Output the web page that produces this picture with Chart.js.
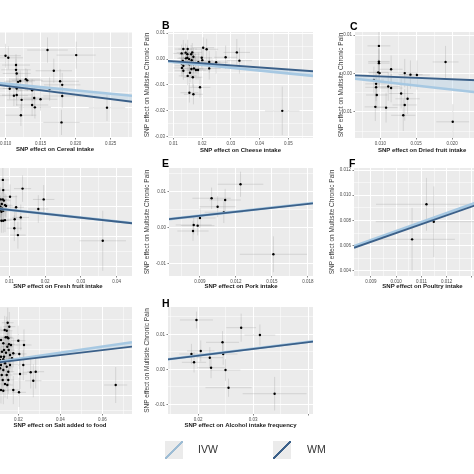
<!DOCTYPE html>
<html><head><meta charset="utf-8">
<script src="https://cdn.jsdelivr.net/npm/chart.js@4.4.1/dist/chart.umd.min.js"></script>
<style>
html,body{margin:0;padding:0;background:#fff;width:474px;height:474px;overflow:hidden;position:relative;}
.lab{position:absolute;font:bold 10.5px "Liberation Sans",Arial,sans-serif;line-height:1;color:#000;will-change:transform;}
.key{position:absolute;width:17.5px;height:18px;}
.ktxt{position:absolute;font:10.5px "Liberation Sans",Arial,sans-serif;line-height:1;color:#333;will-change:transform;-webkit-font-smoothing:antialiased;}
</style></head><body>
<script>
const FONT = '"Liberation Sans", Arial, sans-serif';
const Y_TITLE = 'SNP effect on Multisite Chronic Pain';

// ---------- A: Cereal intake ----------
const cerealX = [0.0100,0.0104,0.0160,0.0201,0.0115,0.0115,0.0116,0.0169,0.0118,0.0121,0.0129,0.0131,0.0178,0.0181,0.0106,0.0116,0.0138,0.0163,0.0112,0.0116,0.0123,0.0141,0.0150,0.0181,0.0138,0.0142,0.0122,0.0180,0.0245];
const cerealY = [0.0071,0.0064,0.0090,0.0073,0.0040,0.0024,0.0012,0.0021,-0.0016,-0.0013,-0.0007,-0.0011,-0.0014,-0.0026,-0.0039,-0.0038,-0.0044,-0.0040,-0.0062,-0.0060,-0.0076,-0.0070,-0.0074,-0.0063,-0.0093,-0.0101,-0.0127,-0.0151,-0.0102];
const cerealXse = [0.0022,0.0021,0.0029,0.0028,0.0020,0.0021,0.0020,0.0026,0.0020,0.0021,0.0022,0.0022,0.0027,0.0026,0.0021,0.0020,0.0023,0.0025,0.0020,0.0021,0.0021,0.0023,0.0024,0.0027,0.0023,0.0023,0.0022,0.0026,0.0026];
const cerealYse = [0.0040,0.0038,0.0042,0.0045,0.0036,0.0037,0.0035,0.0040,0.0034,0.0035,0.0036,0.0036,0.0041,0.0040,0.0035,0.0036,0.0037,0.0039,0.0035,0.0035,0.0036,0.0037,0.0038,0.0040,0.0037,0.0037,0.0036,0.0042,0.0044];
const cerealBeta = [-0.222, -0.293];            // IVW, WM
const cerealXRange = [0.00607, 0.02807];
const cerealYRange = [-0.0203, 0.015];
const cerealXTicks = [0.010,0.015,0.020,0.025];
const cerealXLabels = ['0.010','0.015','0.020','0.025'];
const cerealYTicks = [-0.02,-0.01,0,0.01];
const cerealYLabels = ['-0.02','-0.01','0.00','0.01'];

// ---------- B: Cheese intake ----------
const cheeseX = [0.0135,0.0150,0.0129,0.0143,0.0149,0.0166,0.0162,0.0170,0.0149,0.0144,0.0155,0.0133,0.0164,0.0204,0.0216,0.0199,0.0201,0.0282,0.0321,0.0330,0.0129,0.0135,0.0156,0.0170,0.0178,0.0187,0.0225,0.0249,0.0130,0.0135,0.0163,0.0172,0.0179,0.0186,0.0158,0.0150,0.0168,0.0225,0.0193,0.0156,0.0170,0.0479];
const cheeseY = [0.0039,0.0039,0.0022,0.0025,0.0019,0.0026,0.0019,0.0009,0.0005,0.0003,0.0000,-0.0007,-0.0004,0.0044,0.0038,0.0005,-0.0004,0.0007,0.0026,-0.0006,-0.0016,-0.0026,-0.0020,-0.0019,-0.0016,-0.0012,-0.0011,-0.0012,-0.0034,-0.0045,-0.0038,-0.0036,-0.0042,-0.0042,-0.0053,-0.0065,-0.0070,-0.0036,-0.0109,-0.0130,-0.0136,-0.0200];
const cheeseXse = [0.0030,0.0032,0.0029,0.0031,0.0030,0.0033,0.0032,0.0033,0.0030,0.0030,0.0031,0.0029,0.0032,0.0038,0.0040,0.0036,0.0037,0.0040,0.0046,0.0044,0.0029,0.0030,0.0031,0.0033,0.0034,0.0035,0.0039,0.0041,0.0029,0.0030,0.0032,0.0033,0.0034,0.0035,0.0032,0.0031,0.0033,0.0040,0.0036,0.0031,0.0033,0.0060];
const cheeseYse = [0.0035,0.0036,0.0034,0.0035,0.0034,0.0036,0.0035,0.0034,0.0033,0.0033,0.0034,0.0033,0.0035,0.0040,0.0041,0.0037,0.0038,0.0045,0.0052,0.0050,0.0033,0.0034,0.0035,0.0036,0.0036,0.0037,0.0042,0.0044,0.0034,0.0035,0.0036,0.0036,0.0037,0.0037,0.0036,0.0036,0.0038,0.0043,0.0040,0.0038,0.0039,0.0094];
const cheeseBeta = [-0.111, -0.080];
const cheeseXRange = [0.00816, 0.05859];
const cheeseYRange = [-0.0305, 0.01048];
const cheeseXTicks = [0.01,0.02,0.03,0.04,0.05];
const cheeseXLabels = ['0.01','0.02','0.03','0.04','0.05'];
const cheeseYTicks = [-0.03,-0.02,-0.01,0,0.01];
const cheeseYLabels = ['-0.03','-0.02','-0.01','0.00','0.01'];

// ---------- C: Dried fruit intake ----------
const driedX = [0.0098,0.0098,0.0098,0.0097,0.0099,0.0115,0.0134,0.0142,0.0151,0.0191,0.0091,0.0094,0.0094,0.0111,0.0115,0.0129,0.0095,0.0138,0.0134,0.0093,0.0108,0.0132,0.0201];
const driedY = [0.0072,0.0031,0.0027,0.0003,0.0001,0.0011,0.0001,-0.0003,-0.0004,0.0030,-0.0017,-0.0027,-0.0036,-0.0034,-0.0038,-0.0052,-0.0056,-0.0066,-0.0082,-0.0087,-0.0089,-0.0109,-0.0126];
const driedXse = [0.0016,0.0015,0.0015,0.0014,0.0015,0.0016,0.0017,0.0017,0.0018,0.0018,0.0014,0.0015,0.0015,0.0016,0.0016,0.0017,0.0015,0.0017,0.0017,0.0015,0.0016,0.0017,0.0023];
const driedYse = [0.0040,0.0036,0.0036,0.0034,0.0034,0.0036,0.0037,0.0037,0.0038,0.0042,0.0035,0.0035,0.0036,0.0037,0.0037,0.0039,0.0036,0.0040,0.0041,0.0037,0.0039,0.0041,0.0046];
const driedBeta = [-0.21, -0.075];
const driedXRange = [0.00646, 0.02519];
const driedYRange = [-0.01682, 0.01082];
const driedXTicks = [0.010,0.015,0.020,0.025];
const driedXLabels = ['0.010','0.015','0.020','0.025'];
const driedYTicks = [-0.01,0,0.01];
const driedYLabels = ['-0.01','0.00','0.01'];

// ---------- D: Fresh fruit intake ----------
const freshX = [0.0082,0.0083,0.0076,0.0082,0.0085,0.0102,0.0137,0.0196,0.0079,0.0088,0.0091,0.0119,0.0181,0.0076,0.0083,0.0078,0.0083,0.0088,0.0115,0.0132,0.0114,0.0124,0.0361,0.0075,0.0080,0.0078];
const freshY = [0.0087,0.0053,0.0022,0.0022,0.0018,0.0031,0.0058,0.0022,0.0007,0.0003,0.0000,-0.0004,-0.0010,-0.0013,-0.0016,-0.0049,-0.0049,-0.0047,-0.0044,-0.0038,-0.0074,-0.0097,-0.0116,-0.0002,-0.0008,-0.0019];
const freshXse = [0.0018,0.0018,0.0017,0.0018,0.0018,0.0020,0.0024,0.0030,0.0017,0.0018,0.0019,0.0022,0.0028,0.0017,0.0018,0.0017,0.0018,0.0018,0.0021,0.0023,0.0021,0.0022,0.0065,0.0017,0.0017,0.0017];
const freshYse = [0.0045,0.0042,0.0040,0.0040,0.0039,0.0041,0.0044,0.0048,0.0038,0.0038,0.0038,0.0040,0.0046,0.0038,0.0038,0.0040,0.0040,0.0040,0.0042,0.0043,0.0043,0.0045,0.0100,0.0037,0.0037,0.0038];
const freshBeta = [-0.128, -0.130];
const freshXRange = [0.00293, 0.04427];
const freshYRange = [-0.02333, 0.01267];
const freshXTicks = [0.01,0.02,0.03,0.04];
const freshXLabels = ['0.01','0.02','0.03','0.04'];
const freshYTicks = [-0.02,-0.01,0,0.01];
const freshYLabels = ['-0.02','-0.01','0.00','0.01'];

// ---------- E: Pork intake ----------
const porkX = [0.01238,0.00997,0.01110,0.01047,0.01099,0.00900,0.00848,0.00881,0.00842,0.01512];
const porkY = [0.01206,0.00817,0.00769,0.00583,0.00428,0.00269,0.00075,0.00056,-0.00092,-0.00739];
const porkXse = [0.0019,0.0016,0.0013,0.0015,0.0016,0.0013,0.0015,0.0014,0.0013,0.0028];
const porkYse = [0.0035,0.0030,0.0031,0.0029,0.0030,0.0027,0.0026,0.0027,0.0027,0.0050];
const porkBeta = [0.372, 0.368];
const porkXRange = [0.00642, 0.01842];
const porkYRange = [-0.01342, 0.01658];
const porkXTicks = [0.009,0.012,0.015,0.018];
const porkXLabels = ['0.009','0.012','0.015','0.018'];
const porkYTicks = [-0.01,0,0.01];
const porkYLabels = ['-0.01','0.00','0.01'];

// ---------- F: Poultry intake ----------
const poultryX = [0.01120,0.01063,0.01149];
const poultryY = [0.00928,0.00650,0.00790];
const poultryXse = [0.0020,0.0017,0.0023];
const poultryYse = [0.0021,0.0025,0.0028];
const poultryBeta = [0.715, 0.700];
const poultryXRange = [0.008326, 0.01376];
const poultryYRange = [0.00359, 0.01216];
const poultryXTicks = [0.009,0.010,0.011,0.012,0.013];
const poultryXLabels = ['0.009','0.010','0.011','0.012',''];
const poultryYTicks = [0.004,0.006,0.008,0.010,0.012];
const poultryYLabels = ['0.004','0.006','0.008','0.010','0.012'];

// ---------- G: Salt added to food ----------
const saltX = [0.01495,0.01571,0.01352,0.01448,0.0140,0.01476,0.01524,0.01176,0.01286,0.01557,0.01652,0.0200,0.02271,0.01476,0.01319,0.01543,0.01224,0.01414,0.01176,0.01319,0.01605,0.01762,0.02048,0.01129,0.01286,0.01571,0.0170,0.01367,0.01176,0.01448,0.01605,0.02238,0.01129,0.01286,0.01524,0.02081,0.0259,0.02829,0.0121,0.01448,0.01257,0.01524,0.02714,0.01367,0.01476,0.01176,0.01286,0.01762,0.02033,0.06638];
const saltY = [0.0141,0.01277,0.01167,0.01143,0.00923,0.00923,0.0089,0.00833,0.00723,0.0069,0.00667,0.0081,0.00667,0.0061,0.005,0.005,0.00443,0.0041,0.00277,0.00277,0.00333,0.0039,0.00367,0.00167,0.0019,0.00167,0.00223,0.00057,0,-0.00057,0,0,-0.0011,-0.00167,-0.00223,-0.003,-0.00243,-0.00223,-0.00333,-0.00333,-0.005,-0.005,-0.00523,-0.00633,-0.00667,-0.00833,-0.00857,-0.00833,-0.0091,-0.00667];
const saltXse = [0.0028,0.0029,0.0026,0.0027,0.0027,0.0028,0.0028,0.0024,0.0026,0.0029,0.0030,0.0034,0.0036,0.0028,0.0026,0.0029,0.0025,0.0027,0.0024,0.0026,0.0029,0.0031,0.0034,0.0024,0.0026,0.0029,0.0030,0.0026,0.0024,0.0027,0.0029,0.0035,0.0024,0.0026,0.0028,0.0034,0.0038,0.0040,0.0025,0.0027,0.0025,0.0028,0.0039,0.0026,0.0028,0.0024,0.0026,0.0031,0.0033,0.0055];
const saltYse = [0.0050,0.0049,0.0047,0.0047,0.0046,0.0046,0.0046,0.0045,0.0045,0.0046,0.0046,0.0050,0.0052,0.0046,0.0045,0.0046,0.0045,0.0045,0.0044,0.0045,0.0046,0.0047,0.0050,0.0044,0.0045,0.0046,0.0047,0.0045,0.0044,0.0045,0.0046,0.0051,0.0044,0.0045,0.0046,0.0050,0.0054,0.0056,0.0044,0.0045,0.0045,0.0046,0.0055,0.0045,0.0046,0.0045,0.0045,0.0047,0.0049,0.0060];
const saltBeta = [0.102, 0.083];
const saltXRange = [0.00557, 0.07414];
const saltYRange = [-0.01633, 0.01933];
const saltXTicks = [0.02,0.04,0.06];
const saltXLabels = ['0.02','0.04','0.06'];
const saltYTicks = [-0.01,0,0.01];
const saltYLabels = ['-0.01','0.00','0.01'];

// ---------- H: Alcohol intake frequency ----------
const alcoholX = [0.01971,0.02782,0.03122,0.02444,0.02049,0.01880,0.02456,0.02213,0.01927,0.02236,0.02498,0.02553,0.03389];
const alcoholY = [0.01409,0.01189,0.00980,0.00771,0.00523,0.00437,0.00437,0.00331,0.00200,0.00046,-0.00020,-0.00526,-0.00697];
const alcoholXse = [0.0030,0.0027,0.0028,0.0030,0.0025,0.0022,0.0026,0.0024,0.0022,0.0025,0.0027,0.0042,0.0058];
const alcoholYse = [0.0024,0.0040,0.0030,0.0032,0.0030,0.0029,0.0031,0.0030,0.0029,0.0030,0.0031,0.0026,0.0048];
const alcoholBeta = [0.196, 0.194];
const alcoholXRange = [0.014545, 0.040855];
const alcoholYRange = [-0.01277, 0.0178];
const alcoholXTicks = [0.02,0.03,0.04];
const alcoholXLabels = ['0.02','0.03',''];
const alcoholYTicks = [-0.01,0,0.01];
const alcoholYLabels = ['-0.01','0.00','0.01'];

const IVW_COLOR = '#a6c8e2';
const WM_COLOR = '#3b6089';
const IVW_KEY_COLOR = '#9dbcd4';

// layout (page pixels of each plot panel) kept separate from data
const panels = [
  {x:cerealX,y:cerealY,xse:cerealXse,yse:cerealYse,beta:cerealBeta,xr:cerealXRange,yr:cerealYRange,xt:cerealXTicks,xl:cerealXLabels,yt:cerealYTicks,yl:cerealYLabels,title:'SNP effect on Cereal intake',box:[-22,32,132,138],titleY:149,yTitleX:-40},
  {x:cheeseX,y:cheeseY,xse:cheeseXse,yse:cheeseYse,beta:cheeseBeta,xr:cheeseXRange,yr:cheeseYRange,xt:cheeseXTicks,xl:cheeseXLabels,yt:cheeseYTicks,yl:cheeseYLabels,title:'SNP effect on Cheese intake',box:[168,32,313,138],titleY:150,yTitleX:147},
  {x:driedX,y:driedY,xse:driedXse,yse:driedYse,beta:driedBeta,xr:driedXRange,yr:driedYRange,xt:driedXTicks,xl:driedXLabels,yt:driedYTicks,yl:driedYLabels,title:'SNP effect on Dried fruit intake',box:[355,32,491,138],titleY:150,yTitleX:341.5},
  {x:freshX,y:freshY,xse:freshXse,yse:freshYse,beta:freshBeta,xr:freshXRange,yr:freshYRange,xt:freshXTicks,xl:freshXLabels,yt:freshYTicks,yl:freshYLabels,title:'SNP effect on Fresh fruit intake',box:[-16,168,132,276],titleY:286.7,yTitleX:-34},
  {x:porkX,y:porkY,xse:porkXse,yse:porkYse,beta:porkBeta,xr:porkXRange,yr:porkYRange,xt:porkXTicks,xl:porkXLabels,yt:porkYTicks,yl:porkYLabels,title:'SNP effect on Pork intake',box:[169,168,313,276],titleY:286.7,yTitleX:147},
  {x:poultryX,y:poultryY,xse:poultryXse,yse:poultryYse,beta:poultryBeta,xr:poultryXRange,yr:poultryYRange,xt:poultryXTicks,xl:poultryXLabels,yt:poultryYTicks,yl:poultryYLabels,title:'SNP effect on Poultry intake',box:[354,168,491,276],titleY:286.7,yTitleX:332.5},
  {x:saltX,y:saltY,xse:saltXse,yse:saltYse,beta:saltBeta,xr:saltXRange,yr:saltYRange,xt:saltXTicks,xl:saltXLabels,yt:saltYTicks,yl:saltYLabels,title:'SNP effect on Salt added to food',box:[-12,307,132,414],titleY:425,yTitleX:-30},
  {x:alcoholX,y:alcoholY,xse:alcoholXse,yse:alcoholYse,beta:alcoholBeta,xr:alcoholXRange,yr:alcoholYRange,xt:alcoholXTicks,xl:alcoholXLabels,yt:alcoholYTicks,yl:alcoholYLabels,title:'SNP effect on Alcohol intake frequency',box:[168,307,313,414],titleY:425,yTitleX:147}
];

function gridTicks(majors, range){
  const half = (majors[1]-majors[0])/2;
  const kMin = Math.ceil((range[0]-majors[0])/half - 1e-9);
  const kMax = Math.floor((range[1]-majors[0])/half + 1e-9);
  const out = [];
  for (let k=kMin; k<=kMax; k++) out.push({value: majors[0]+k*half, isMajor: k%2===0});
  return out;
}
function labelFor(v, majors, labels){
  const i = majors.findIndex(m => Math.abs(m-v) < 1e-9);
  return i>=0 ? labels[i] : '';
}

const bgPlugin = {id:'panelbg', beforeDraw(chart){
  const {ctx, chartArea:a} = chart;
  ctx.save(); ctx.fillStyle='#ebebeb'; ctx.fillRect(a.left,a.top,a.right-a.left,a.bottom-a.top); ctx.restore();
}};
const errPlugin = {id:'errbars', beforeDatasetsDraw(chart){
  const ds = chart.data.datasets[0], xs = chart.scales.x, ys = chart.scales.y;
  const {ctx, chartArea:a} = chart;
  ctx.save();
  ctx.beginPath(); ctx.rect(a.left,a.top,a.right-a.left,a.bottom-a.top); ctx.clip();
  ctx.strokeStyle='rgba(120,120,120,0.38)'; ctx.lineWidth=0.55;
  ctx.beginPath();
  ds.data.forEach((p,i)=>{
    const px = xs.getPixelForValue(p.x), py = ys.getPixelForValue(p.y);
    ctx.moveTo(xs.getPixelForValue(p.x-ds.xse[i]), py); ctx.lineTo(xs.getPixelForValue(p.x+ds.xse[i]), py);
    ctx.moveTo(px, ys.getPixelForValue(p.y-ds.yse[i])); ctx.lineTo(px, ys.getPixelForValue(p.y+ds.yse[i]));
  });
  ctx.stroke(); ctx.restore();
}};

function makePanel(p){
  const [L,T,R,B] = p.box;
  const WY = 30, PT = 6, PR = 4;
  const HX = Math.round(p.titleY + 3.6 - B);
  const left = L-WY, top = T-PT, w = R-L+WY+PR, h = B-T+PT+HX;
  const cv = document.createElement('canvas');
  cv.width = w; cv.height = h;
  cv.style.cssText = `position:absolute;left:${left}px;top:${top}px;width:${w}px;height:${h}px;`;
  document.body.appendChild(cv);
  const xg = gridTicks(p.xt, p.xr), yg = gridTicks(p.yt, p.yr);
  const yTitlePad = p.yTitleX - left - 3.9;
  const axis = (g, majors, labels, range, isX) => ({
    type:'linear', position: isX?'bottom':'left', min:range[0], max:range[1],
    afterBuildTicks: s => { s.ticks = g.map(t => ({value:t.value, isMajor:t.isMajor})); },
    afterFit: s => { if (isX) s.height = HX; else s.width = WY; },
    grid:{ color:'#ffffff', lineWidth: c => (c.tick && c.tick.isMajor) ? 1 : 0.5,
      tickColor: c => (c.tick && c.tick.isMajor) ? '#333333' : 'rgba(0,0,0,0)',
      tickLength:1.5, tickWidth:0.6, drawTicks:true },
    border:{display:false},
    ticks:{ autoSkip:false, maxRotation:0, minRotation:0, padding:1.5, color:'#4d4d4d',
      font:{family:FONT, size:4.5}, callback:(v,i,t) => (t[i] && t[i].isMajor) ? labelFor(v, majors, labels) : '' },
    title: isX ? {display:true, text:p.title, color:'#1a1a1a', font:{family:FONT,size:6,weight:'bold'}, padding:{top:0,bottom:0}}
               : {display:true, text:Y_TITLE, color:'#3a3a3a', font:{family:FONT,size:6.5}, padding:{top:yTitlePad,bottom:0}}
  });
  const lineData = b => [{x:p.xr[0], y:b*p.xr[0]}, {x:p.xr[1], y:b*p.xr[1]}];
  new Chart(cv, {
    type:'scatter',
    data:{datasets:[
      {data:p.x.map((v,i)=>({x:v,y:p.y[i]})), xse:p.xse, yse:p.yse, pointRadius:1.2, pointBackgroundColor:'#000', pointBorderWidth:0, order:3},
      {type:'line', data:lineData(p.beta[0]), borderColor:IVW_COLOR, borderWidth:2.6, pointRadius:0, clip:0, order:2,
        fill:{target:2}, backgroundColor:'rgba(166,200,226,0.35)'},
      {type:'line', data:lineData(p.beta[1]), borderColor:WM_COLOR, borderWidth:1.8, pointRadius:0, clip:0, order:1, fill:false}
    ]},
    options:{
      responsive:false, animation:false, events:[],
      layout:{padding:{top:PT,right:PR,left:0,bottom:0}},
      plugins:{legend:{display:false}, tooltip:{enabled:false}},
      scales:{ x: axis(xg, p.xt, p.xl, p.xr, true), y: axis(yg, p.yt, p.yl, p.yr, false) }
    },
    plugins:[bgPlugin, errPlugin]
  });
}
panels.forEach(makePanel);

// panel letters
[['B',162,20.4],['C',349.8,21.1],['E',162,157.8],['F',349.2,157.8],['H',162.3,297.8]].forEach(([t,x,y])=>{
  const d=document.createElement('div'); d.className='lab'; d.textContent=t;
  d.style.left=x+'px'; d.style.top=y+'px'; document.body.appendChild(d);
});
// legend
[['IVW',IVW_KEY_COLOR,165,440.5,197.5],['WM',WM_COLOR,273.3,440.7,306.7]].forEach(([t,c,kx,ky,tx])=>{
  const k=document.createElement('div'); k.className='key';
  k.style.left=kx+'px'; k.style.top=ky+'px';
  k.style.background=`linear-gradient(to bottom right, #ebebeb calc(50% - 0.9px), ${c} calc(50% - 0.9px), ${c} calc(50% + 0.9px), #ebebeb calc(50% + 0.9px))`;
  document.body.appendChild(k);
  const s=document.createElement('div'); s.className='ktxt'; s.textContent=t;
  s.style.left=tx+'px'; s.style.top='444.2px'; document.body.appendChild(s);
});
</script>
</body></html>
